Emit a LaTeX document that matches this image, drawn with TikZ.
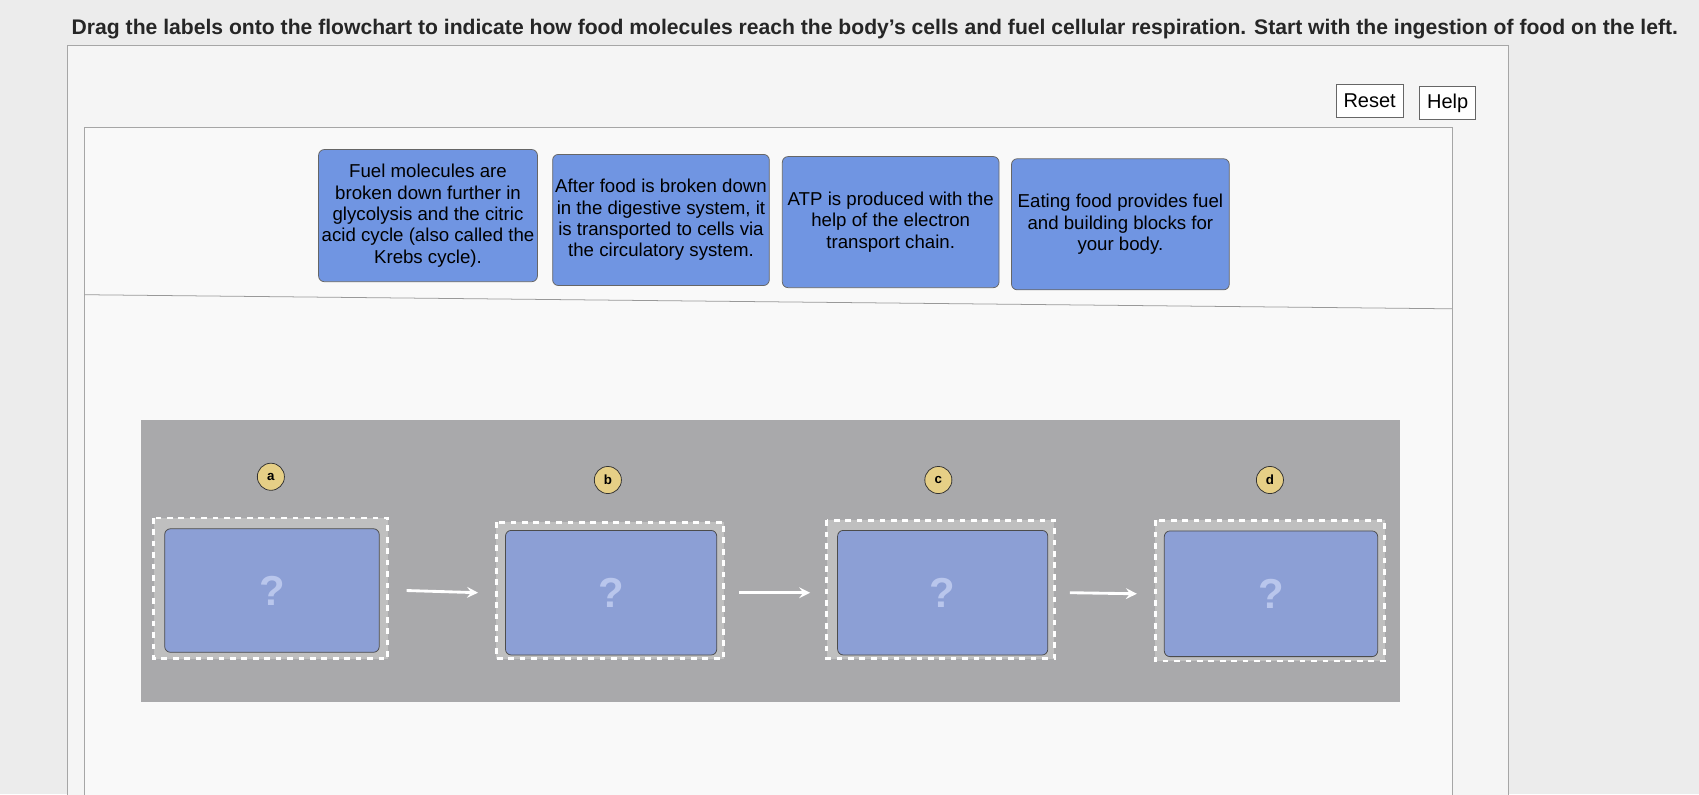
\documentclass[tikz,border=0pt]{standalone}
\usepackage{fontspec}
\setmainfont{Liberation Sans}
\definecolor{lblue}{HTML}{7095E2}
\definecolor{tblue}{HTML}{8C9FD5}
\definecolor{qblue}{HTML}{B9C6EC}
\definecolor{tan}{HTML}{E6CF86}
\definecolor{area}{HTML}{A9A9AB}
\begin{document}
\begin{tikzpicture}[x=0.02cm,y=-0.02cm,
 lbl/.style={draw=black!60,fill=lblue,rounded corners=3pt,align=center,font=\fontsize{9.8}{11.2}\selectfont,inner sep=1pt},
 btn/.style={draw=black!60,fill=white,font=\fontsize{10.5}{12}\selectfont,inner sep=0pt},
 circ/.style={circle,draw=black!80,fill=tan,font=\bfseries\fontsize{7}{8}\selectfont,minimum size=0.5cm,inner sep=0pt},
 slot/.style={draw=white,dashed,line width=1.5pt,fill=gray!50},
 target/.style={draw=black!70,fill=tblue,rounded corners=3pt,font=\bfseries\fontsize{22}{24}\selectfont,text=qblue},
 arr/.style={white,line width=1.5pt,-stealth}]
\fill[gray!15] (0,0) rectangle (1568,733);
\useasboundingbox (0,0) rectangle (1568,733);
\node[anchor=west,font=\bfseries\fontsize{11.1}{13}\selectfont,text=black!85] (title) at (60,27) {Drag the labels onto the flowchart to indicate how food molecules reach the body's cells and fuel cellular respiration. Start with the ingestion of food on the left.};
\draw[black!35,fill=gray!8] (62,42) rectangle (1392,800);
\node[btn,minimum width=1.24cm,minimum height=0.6cm] (reset) at (1264,93) {Reset};
\node[btn,minimum width=1.04cm,minimum height=0.6cm] (help) at (1336,95) {Help};
\draw[black!35,fill=gray!5] (78,118) rectangle (1340,800);
\draw[black!40] (78,272) -- (1340,285);
\node[lbl,minimum width=4.04cm,minimum height=2.44cm] (l1) at (395,199) {Fuel molecules are\\broken down further in\\glycolysis and the citric\\acid cycle (also called the\\Krebs cycle).};
\node[lbl,minimum width=4.0cm,minimum height=2.42cm] (l2) at (610,203) {After food is broken down\\in the digestive system, it\\is transported to cells via\\the circulatory system.};
\node[lbl,minimum width=4.0cm,minimum height=2.42cm] (l3) at (822,205) {ATP is produced with the\\help of the electron\\transport chain.};
\node[lbl,minimum width=4.02cm,minimum height=2.42cm] (l4) at (1034,207) {Eating food provides fuel\\and building blocks for\\your body.};
\fill[area] (130,388) rectangle (1292,648);
\node[circ] (ca) at (250,440) {a};
\node[circ] (cb) at (561,443) {b};
\node[circ] (cc) at (866,443) {c};
\node[circ] (cd) at (1172,443) {d};
\draw[slot] (142,478) rectangle (358,608);
\draw[slot] (458,482) rectangle (668,608);
\draw[slot] (763,480) rectangle (973,608);
\draw[slot] (1066,480) rectangle (1278,610);
\node[target,minimum width=3.96cm,minimum height=2.28cm] (ta) at (251,545) {?};
\node[target,minimum width=3.9cm,minimum height=2.3cm] (tb) at (564,547) {?};
\node[target,minimum width=3.88cm,minimum height=2.3cm] (tc) at (870,547) {?};
\node[target,minimum width=3.94cm,minimum height=2.32cm] (td) at (1173,548) {?};
\draw[arr] ([xshift=0.5cm]ta.east) -- ([xshift=-0.5cm]tb.west);
\draw[arr] ([xshift=0.4cm]tb.east) -- ([xshift=-0.5cm]tc.west);
\draw[arr] ([xshift=0.4cm]tc.east) -- ([xshift=-0.5cm]td.west);
\end{tikzpicture}
\end{document}
